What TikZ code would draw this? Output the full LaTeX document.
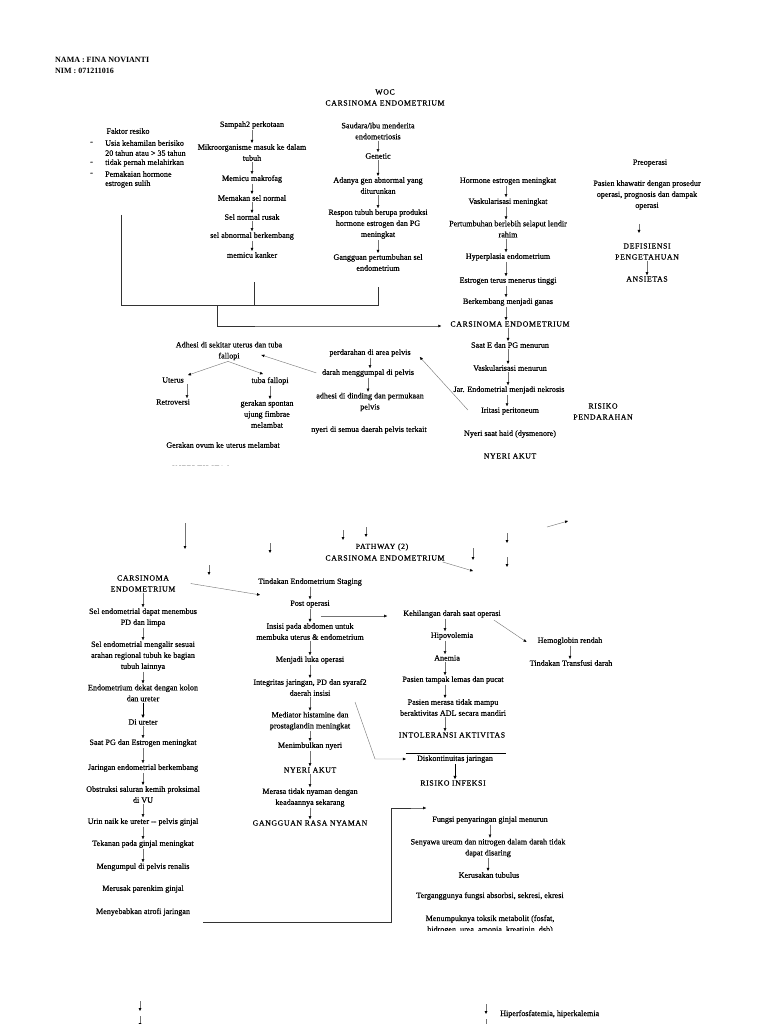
\documentclass[tikz,border=0pt]{standalone}
\usepackage{fontspec}
\setmainfont{Liberation Serif}
\newfontfamily\bfont[FakeBold=0.35]{Liberation Serif}
\newfontfamily\hfont[LetterSpace=8,FakeBold=0.3]{Liberation Serif}
\usetikzlibrary{arrows.meta,calc}
\newcommand\fsb{\bfont\fontsize{8.1}{11}\selectfont}
\newcommand\fsh{\hfont\fontsize{7.8}{11}\selectfont}
\newcommand\fsn{\bfseries\fontsize{8}{11}\selectfont}
\begin{document}
\begin{tikzpicture}[x=1pt,y=-1pt,
 t/.style={font=\fsb,align=center,inner sep=1pt},
 h/.style={font=\fsh,align=center,inner sep=1pt},
 tl/.style={font=\fsb,anchor=west,inner sep=0pt},
 arr/.style={draw=black!55,line width=0.4pt,-{Triangle[color=black,width=2.6pt,length=3pt]}},
 barr/.style={draw=black,line width=0.8pt,-{Triangle[width=3pt,length=3.4pt]}},
 conn/.style={draw=black!80,line width=0.7pt},
]
\useasboundingbox[fill=white] (0,0) rectangle (768,1024);

% header
\node[font=\fsn,anchor=west,inner sep=0pt] (nama) at (55,60) {NAMA : FINA NOVIANTI};
\node[font=\fsn,anchor=west,inner sep=0pt] (nim) at (55,71) {NIM : 071211016};
\node[h] (woc) at (385,92) {WOC};
\node[h] (t1) at (385,103) {CARSINOMA ENDOMETRIUM};

% faktor resiko
\node[t] (fr) at (128,131) {Faktor resiko};
\begin{scope}
\clip (0,120) rectangle (187,200);
\node[tl] (f1) at (105,143) {Usia kehamilan berisiko};
\node[tl] (f2) at (105,153) {20 tahun atau > 35 tahun};
\node[tl] (f3) at (105,163) {tidak pernah melahirkan};
\node[tl] (f4) at (105,174) {Pemakaian hormone};
\node[tl] (f5) at (105,184) {estrogen sulih};
\end{scope}
\node[tl] (d1x) at (90,143) {-};
\node[tl] (d2x) at (90,163) {-};
\node[tl] (d3x) at (90,174) {-};

% column 2
\node[t] (a1) at (252,125) {Sampah2 perkotaan};
\node[t] (a2) at (252,152.5) {Mikroorganisme masuk ke dalam\\tubuh};
\node[t] (a3) at (252,179) {Memicu makrofag};
\node[t] (a4) at (252,198) {Memakan sel normal};
\node[t] (a5) at (252,217) {Sel normal rusak};
\node[t] (a6) at (252,236) {sel abnormal berkembang};
\node[t] (a7) at (252,255) {memicu kanker};
\foreach \p/\q in {a1/a2,a2/a3,a3/a4,a4/a5,a5/a6,a6/a7}
  \draw[arr] (\p.south) -- (\p.south |- \q.north);

% column 3
\node[t] (b1) at (378,131) {Saudara/ibu menderita\\endometriosis};
\node[t] (b2) at (378,156) {Genetic};
\node[t] (b3) at (378,185.5) {Adanya gen abnormal yang\\diturunkan};
\node[t] (b4) at (378,224) {Respon tubuh berupa produksi\\hormone estrogen dan PG\\meningkat};
\node[t] (b5) at (378,262.5) {Gangguan pertumbuhan sel\\endometrium};
\foreach \p/\q in {b1/b2,b2/b3,b3/b4,b4/b5}
  \draw[arr] (\p.south) -- (\p.south |- \q.north);

% right column
\node[t] (c1) at (508,181) {Hormone estrogen meningkat};
\node[t] (c2) at (508,202) {Vaskularisasi meningkat};
\node[t] (c3) at (508,229) {Pertumbuhan berlebih selaput lendir\\rahim};
\node[t] (c4) at (508,257) {Hyperplasia endometrium};
\node[t] (c5) at (508,281) {Estrogen terus menerus tinggi};
\node[t] (c6) at (508,302) {Berkembang menjadi ganas};
\node[h] (c7) at (510,324) {CARSINOMA ENDOMETRIUM};
\node[t] (c8) at (510,345) {Saat E dan PG menurun};
\node[t] (c9) at (510,368) {Vaskularisasi menurun};
\node[t] (c10) at (509,390) {Jar. Endometrial menjadi nekrosis};
\node[t] (c11) at (510,411) {Iritasi peritoneum};
\node[t] (c12) at (510,434) {Nyeri saat haid (dysmenore)};
\node[h] (c13) at (510,456) {NYERI AKUT};
\node[h] (rp) at (603,411.5) {RISIKO\\PENDARAHAN};
\foreach \p/\q in {c1/c2,c2/c3,c3/c4,c4/c5,c5/c6,c6/c7,c7/c8,c8/c9,c9/c10,c10/c11}
  \draw[arr] ($(\p.south)+(-2,0)$) -- ($(\p.south |- \q.north)+(-2,0)$);

% preoperasi
\node[t] (p1) at (650,163) {Preoperasi};
\node[t] (p2) at (647,195) {Pasien khawatir dengan prosedur\\operasi, prognosis dan dampak\\operasi};
\node[h] (p3) at (647,251.5) {DEFISIENSI\\PENGETAHUAN};
\node[h] (p4) at (647,279) {ANSIETAS};
\draw[arr] (p3.south) -- (p3.south |- p4.north);

% connector to carsinoma
\draw[conn] (121,215) -- (121,305) -- (378,305) -- (378,287);
\draw[conn] (254,282) -- (254,305);
\draw[conn] (217,305) -- (217,326) -- (255,326);
\draw[arr] (255,326) -- ($(c7.west)+(-8,2)$);

% middle section
\node[t] (m1) at (229,351) {Adhesi di sekitar uterus dan tuba\\fallopi};
\node[t] (m2) at (173,380) {Uterus};
\node[t] (m3) at (173,402) {Retroversi};
\node[t] (m4) at (270,381) {tuba fallopi};
\node[t] (m5) at (267,414) {gerakan spontan\\ujung fimbrae\\melambat};
\node[t] (m6) at (223,445) {Gerakan ovum ke uterus melambat};
\begin{scope}
\clip (170,455) rectangle (240,465.5);
\node[h] (m7) at (201,468.5) {INFERTILITAS};
\end{scope}
\node[t] (m8) at (370,353) {perdarahan di area pelvis};
\node[t] (m9) at (368,373) {darah menggumpal di pelvis};
\node[t] (m10) at (370,402) {adhesi di dinding dan permukaan\\pelvis};
\node[t] (m11) at (369,430) {nyeri di semua daerah pelvis terkait};
\draw[arr] ($(m1.south)+(-1,0)$) -- ($(m2.north east)+(3,-1)$);
\draw[arr] ($(m1.south)+(-1,0)$) -- ($(m4.north)+(-7,-2)$);
\draw[arr] ($(m2.south)+(14,0)$) -- ($(m2.south |- m3.north)+(14,0)$);
\draw[arr] (m4.south) -- (m4.south |- m5.north);
\draw[arr] (m8.south) -- (m8.south |- m9.north);
\draw[arr] (m9.south) -- (m9.south |- m10.north);
\draw[arr] ($(m8.south west)+(-12,15)$) -- ($(m1.east)+(-22,4)$);
\draw[arr] ($(c11.west)+(-12,-1)$) -- ($(m8.east)+(8,4)$);

% stray arrows
\foreach \x/\ya/\yb [count=\i] in {185/523/549, 270/543/553, 343/530/540, 366/527/537, 209/565/575, 507/533/543, 507/557/567, 473/548/560, 639/224/233, 140/1001/1011, 140/1016/1026, 486/1004/1014, 486/1019/1027} {
  \coordinate (sa\i) at (\x,\ya);
  \coordinate (sb\i) at (\x,\yb);
  \draw[arr] (sa\i) -- (sb\i);
}
\coordinate (sc1) at (547,527);
\coordinate (sc2) at (568,521);
\draw[arr] (sc1) -- (sc2);

% pathway 2
\node[h] (pw) at (382,547) {PATHWAY (2)};
\node[h] (t2) at (385,558) {CARSINOMA ENDOMETRIUM};
\coordinate (t2e) at (473,571);
\draw[arr] ($(t2.east)+(-3,4)$) -- (t2e);

% left bottom
\node[h] (d0) at (143,583.5) {CARSINOMA\\ENDOMETRIUM};
\node[t] (d1) at (143,617.5) {Sel endometrial dapat menembus\\PD dan limpa};
\node[t] (d2) at (143,656) {Sel endometrial mengalir sesuai\\arahan regional tubuh ke bagian\\tubuh lainnya};
\node[t] (d3) at (143,693) {Endometrium dekat dengan kolon\\dan ureter};
\node[t] (d4) at (143,722) {Di ureter};
\node[t] (d5) at (143,743) {Saat PG dan Estrogen meningkat};
\node[t] (d6) at (143,768) {Jaringan endometrial berkembang};
\node[t] (d7) at (143,794.5) {Obstruksi saluran kemih proksimal\\di VU};
\node[t] (d8) at (143,822) {Urin naik ke ureter -- pelvis ginjal};
\node[t] (d9) at (143,844) {Tekanan pada ginjal meningkat};
\node[t] (d10) at (143,867) {Mengumpul di pelvis renalis};
\node[t] (d11) at (143,889) {Merusak parenkim ginjal};
\node[t] (d12) at (143,912) {Menyebabkan atrofi jaringan};
\foreach \p/\q in {d0/d1,d1/d2,d2/d3,d4/d5,d5/d6,d6/d7,d7/d8,d8/d9,d9/d10}
  \draw[arr] (\p.south) -- (\p.south |- \q.north);
\draw[barr] (d3.south) -- (d3.south |- d4.north);

% middle bottom
\node[t] (e1) at (310,582) {Tindakan Endometrium Staging};
\node[t] (e2) at (310,604) {Post operasi};
\node[t] (e3) at (310,631.5) {Insisi pada abdomen untuk\\membuka uterus \& endometrium};
\node[t] (e4) at (310,660) {Menjadi luka operasi};
\node[t] (e5) at (310,687.5) {Integritas jaringan, PD dan syaraf2\\daerah insisi};
\node[t] (e6) at (310,721) {Mediator histamine dan\\prostaglandin meningkat};
\node[t] (e7) at (310,746) {Menimbulkan nyeri};
\node[h] (e8) at (310,770) {NYERI AKUT};
\node[t] (e9) at (310,797.5) {Merasa tidak nyaman dengan\\keadaannya sekarang};
\node[h] (e10) at (310,823) {GANGGUAN RASA NYAMAN};
\foreach \p/\q in {e1/e2,e2/e3,e3/e4,e4/e5,e5/e6,e6/e7,e7/e8,e8/e9,e9/e10}
  \draw[arr] (\p.south) -- (\p.south |- \q.north);
\draw[arr] ($(d0.east)+(14,0)$) -- ($(e1.south west)+(3,8)$);

% right bottom
\node[t] (g1) at (452,614) {Kehilangan darah saat operasi};
\node[t] (g2) at (452,636) {Hipovolemia};
\node[t] (g3) at (447,658) {Anemia};
\node[t] (g4) at (453,680) {Pasien tampak lemas dan pucat};
\node[t] (g5) at (453,707.5) {Pasien merasa tidak mampu\\beraktivitas ADL secara mandiri};
\node[h] (g6) at (452,735) {INTOLERANSI AKTIVITAS};
\node[t] (h1) at (570,641) {Hemoglobin rendah};
\node[t] (h2) at (571,663) {Tindakan Transfusi darah};
\foreach \p/\q in {g1/g2,g2/g3,g3/g4,g4/g5,g5/g6}
  \draw[arr] ($(\p.south -| g1)+(-7,0)$) -- ($(\q.north -| g1)+(-7,0)$);
\draw[arr] (h1.south) -- (h1.south |- h2.north);
\draw[arr] ($(e2.east)+(-10,12)$) -- ($(g1.west)+(-15,2)$);
\draw[arr] ($(g1.east)+(-8,6)$) -- ($(h1.west)+(-10,1)$);

\node[t] (i1) at (455,759) {Diskontinuitas jaringan};
\node[h] (i2) at (453,783) {RISIKO INFEKSI};
\draw[line width=0.6pt] ($(i1.north west)+(-10,-0.5)$) -- ($(i1.north east)+(12,-0.5)$);
\draw[barr] (i1.south) -- (i1.south |- i2.north);
\coordinate (q1) at (355,702);
\coordinate (q2) at (375,759);
\draw[arr] (q1) -- (q2) -- ($(i1.west)+(-10,0)$);

\node[t] (k1) at (490,820) {Fungsi penyaringan ginjal menurun};
\node[t] (k2) at (488,848) {Senyawa ureum dan nitrogen dalam darah tidak\\dapat disaring};
\node[t] (k3) at (489,875) {Kerusakan tubulus};
\node[t] (k4) at (490,896) {Terganggunya fungsi absorbsi, sekresi, ekresi};
\begin{scope}
\clip (380,905) rectangle (620,930);
\node[t] (k5) at (490,924.5) {Menumpuknya toksik metabolit (fosfat,\\hidrogen, urea, amonia, kreatinin, dsb)};
\end{scope}
\draw[arr] (k1.south) -- (k1.south |- k2.north);
\draw[arr] (k2.south) -- (k2.south |- k3.north);
\coordinate (r1) at (203,922);
\coordinate (r2) at (391,922);
\coordinate (r3) at (391,808);
\draw[conn] (r1) -- (r2) -- (r3) -- ++(20,0);
\draw[arr] ($(r3)+(20,0)$) -- ($(k1.west)+(-5,-12)$);

\node[font=\fsb,anchor=west,inner sep=0pt] (hip) at (500,1014) {Hiperfosfatemia, hiperkalemia};
\end{tikzpicture}
\end{document}
